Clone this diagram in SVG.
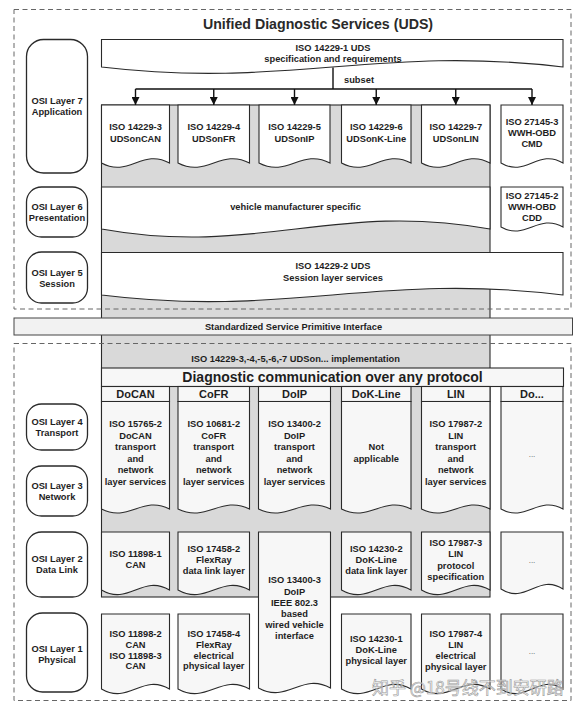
<svg xmlns="http://www.w3.org/2000/svg" width="581" height="708" viewBox="0 0 581 708">
<style>
.t{font-family:"Liberation Sans",Arial,sans-serif;font-size:9.3px;font-weight:bold;fill:#1e1e1e;text-anchor:middle}
.h{font-size:11px}
.big{font-size:14px}
.ttl{font-size:14.2px;fill:#2a2a2a}
.dots{font-weight:normal;font-size:8px;fill:#555}
.box{fill:#fff;stroke:#2a2a2a;stroke-width:1.1}
.lbox{fill:#f7f7f7;stroke:#2a2a2a;stroke-width:1.1}
.gray{fill:#d9d9d9;stroke:#2a2a2a;stroke-width:1.1}
.osi{fill:#fff;stroke:#2a2a2a;stroke-width:1.3}
.dash{fill:none;stroke:#666;stroke-width:1;stroke-dasharray:5 3.5}
.conn{stroke:#111;stroke-width:1.4;fill:none}
.wm{font-family:"Noto Sans CJK SC",sans-serif;font-size:17px;fill:#fff;fill-opacity:0.6;stroke:#999;stroke-width:0.6;text-anchor:start}
</style>
<defs>
<marker id="arr" markerUnits="userSpaceOnUse" markerWidth="8" markerHeight="8" refX="8" refY="4" orient="auto">
<path d="M0,0 L8,4 L0,8 z" fill="#111"/>
</marker>
</defs>
<rect width="581" height="708" fill="#fff"/>

<!-- gray backbone column -->
<rect id="gray-column" class="gray" x="101.5" y="105" width="388.5" height="492"/>

<!-- dashed frames -->
<rect class="dash" x="14" y="9.5" width="557" height="299.5"/>
<rect class="dash" x="14" y="343.5" width="557" height="357"/>

<text class="t ttl" x="318" y="28.5">Unified Diagnostic Services (UDS)</text>

<!-- OSI layer labels -->
<g id="osi7"><rect class="osi" x="26.5" y="39.5" width="61" height="133.5" rx="17"/><text class="t" x="57" y="104">OSI Layer 7</text><text class="t" x="57" y="115">Application</text></g>
<g id="osi6"><rect class="osi" x="26.5" y="187" width="61" height="50" rx="15"/><text class="t" x="57" y="209.5">OSI Layer 6</text><text class="t" x="57" y="220.7">Presentation</text></g>
<g id="osi5"><rect class="osi" x="26.5" y="252" width="61" height="51" rx="15"/><text class="t" x="57" y="275.5">OSI Layer 5</text><text class="t" x="57" y="286.7">Session</text></g>
<g id="osi4"><rect class="osi" x="26.5" y="404" width="61" height="46" rx="15"/><text class="t" x="57" y="425">OSI Layer 4</text><text class="t" x="57" y="436">Transport</text></g>
<g id="osi3"><rect class="osi" x="26.5" y="466" width="61" height="50" rx="15"/><text class="t" x="57" y="488.5">OSI Layer 3</text><text class="t" x="57" y="499.5">Network</text></g>
<g id="osi2"><rect class="osi" x="26.5" y="532" width="61" height="65" rx="15"/><text class="t" x="57" y="562.3">OSI Layer 2</text><text class="t" x="57" y="573.3">Data Link</text></g>
<g id="osi1"><rect class="osi" x="26.5" y="613" width="61" height="79" rx="16"/><text class="t" x="57" y="651.5">OSI Layer 1</text><text class="t" x="57" y="662.5">Physical</text></g>

<!-- top banner -->
<g id="iso14229-1"><path class="box" d="M101.5,39.5 H563 V67 C378.4,45 286.1,89 101.5,67 Z"/><text class="t" x="333" y="50.5">ISO 14229-1 UDS</text><text class="t" x="333" y="62">specification and requirements</text></g>

<!-- layer 7 boxes -->
<g id="udsoncan"><path class="box" d="M101.5,105 H169.5 V163 C142.3,148 128.7,178 101.5,163 Z"/><text class="t" x="135.5" y="130">ISO 14229-3</text><text class="t" x="135.5" y="141.5">UDSonCAN</text></g>
<g id="udsonfr"><path class="box" d="M178,105 H249.5 V163 C220.9,148 206.6,178 178,163 Z"/><text class="t" x="213.75" y="130">ISO 14229-4</text><text class="t" x="213.75" y="141.5">UDSonFR</text></g>
<g id="udsonip"><path class="box" d="M259,105 H330 V163 C301.6,148 287.4,178 259,163 Z"/><text class="t" x="294.5" y="130">ISO 14229-5</text><text class="t" x="294.5" y="141.5">UDSonIP</text></g>
<g id="udsonkline"><path class="box" d="M341.5,105 H411 V163 C383.2,148 369.3,178 341.5,163 Z"/><text class="t" x="376.25" y="130">ISO 14229-6</text><text class="t" x="376.25" y="141.5">UDSonK-Line</text></g>
<g id="udsonlin"><path class="box" d="M421.5,105 H490 V163 C462.6,148 448.9,178 421.5,163 Z"/><text class="t" x="455.75" y="130">ISO 14229-7</text><text class="t" x="455.75" y="141.5">UDSonLIN</text></g>
<g id="wwhobd-cmd"><path class="box" d="M501,105 H563 V163 C538.2,148 525.8,178 501,163 Z"/><text class="t" x="532" y="125">ISO 27145-3</text><text class="t" x="532" y="136.2">WWH-OBD</text><text class="t" x="532" y="147.4">CMD</text></g>

<!-- layer 6 -->
<g id="vehicle"><path class="box" d="M101.5,187 H490 V229 C334.6,201 256.9,257 101.5,229 Z"/><text class="t" x="295.5" y="210">vehicle manufacturer specific</text></g>
<g id="wwhobd-cdd"><path class="box" d="M501,187 H563 V227 C538.2,213 525.8,241 501,227 Z"/><text class="t" x="532" y="198.5">ISO 27145-2</text><text class="t" x="532" y="209.5">WWH-OBD</text><text class="t" x="532" y="220.5">CDD</text></g>

<!-- layer 5 -->
<g id="session"><path class="box" d="M101.5,252.5 H563 V295 C378.4,272 286.1,318 101.5,295 Z"/><text class="t" x="333" y="268.8">ISO 14229-2 UDS</text><text class="t" x="333" y="280.5">Session layer services</text></g>

<!-- interface bar -->
<g id="sspi"><rect x="14" y="318" width="558.5" height="17" fill="#f2f2f2" stroke="#444" stroke-width="1"/><text class="t" x="293.5" y="330">Standardized Service Primitive Interface</text></g>

<text id="impl" class="t" x="295.5" y="361.6">ISO 14229-3,-4,-5,-6,-7 UDSon... implementation</text>

<g id="diag"><rect class="lbox" x="101.5" y="368" width="462" height="18.5"/><text class="t big" x="332.5" y="382">Diagnostic communication over any protocol</text></g>

<!-- headers -->
<g id="h-docan"><rect class="lbox" x="101.5" y="386.5" width="68" height="15"/><text class="t h" x="135.5" y="398.3">DoCAN</text></g>
<g id="h-cofr"><rect class="lbox" x="178" y="386.5" width="71.5" height="15"/><text class="t h" x="213.75" y="398.3">CoFR</text></g>
<g id="h-doip"><rect class="lbox" x="258.5" y="386.5" width="72" height="15"/><text class="t h" x="294.5" y="398.3">DoIP</text></g>
<g id="h-dokline"><rect class="lbox" x="341.5" y="386.5" width="69.5" height="15"/><text class="t h" x="376.25" y="398.3">DoK-Line</text></g>
<g id="h-lin"><rect class="lbox" x="421.5" y="386.5" width="68.5" height="15"/><text class="t h" x="455.75" y="398.3">LIN</text></g>
<g id="h-do"><rect class="lbox" x="501" y="386.5" width="62" height="15"/><text class="t h" x="532" y="398.3">Do...</text></g>

<!-- layer 4/3 -->
<g id="tp-docan"><path class="lbox" d="M101.5,401.5 H169.5 V509 C142.3,495 128.7,523 101.5,509 Z"/><text class="t" x="135.5" y="427.3">ISO 15765-2</text><text class="t" x="135.5" y="438.8">DoCAN</text><text class="t" x="135.5" y="450.3">transport</text><text class="t" x="135.5" y="461.8">and</text><text class="t" x="135.5" y="473.3">network</text><text class="t" x="135.5" y="484.8">layer services</text></g>
<g id="tp-cofr"><path class="lbox" d="M178,401.5 H249.5 V509 C220.9,495 206.6,523 178,509 Z"/><text class="t" x="213.75" y="427.3">ISO 10681-2</text><text class="t" x="213.75" y="438.8">CoFR</text><text class="t" x="213.75" y="450.3">transport</text><text class="t" x="213.75" y="461.8">and</text><text class="t" x="213.75" y="473.3">network</text><text class="t" x="213.75" y="484.8">layer services</text></g>
<g id="tp-doip"><path class="lbox" d="M258.5,401.5 H330.5 V509 C301.7,495 287.3,523 258.5,509 Z"/><text class="t" x="294.5" y="427.3">ISO 13400-2</text><text class="t" x="294.5" y="438.8">DoIP</text><text class="t" x="294.5" y="450.3">transport</text><text class="t" x="294.5" y="461.8">and</text><text class="t" x="294.5" y="473.3">network</text><text class="t" x="294.5" y="484.8">layer services</text></g>
<g id="tp-dokline"><path class="lbox" d="M341.5,401.5 H411 V509 C383.2,495 369.3,523 341.5,509 Z"/><text class="t" x="376.25" y="450.3">Not</text><text class="t" x="376.25" y="461.8">applicable</text></g>
<g id="tp-lin"><path class="lbox" d="M421.5,401.5 H490 V509 C462.6,495 448.9,523 421.5,509 Z"/><text class="t" x="455.75" y="427.3">ISO 17987-2</text><text class="t" x="455.75" y="438.8">LIN</text><text class="t" x="455.75" y="450.3">transport</text><text class="t" x="455.75" y="461.8">and</text><text class="t" x="455.75" y="473.3">network</text><text class="t" x="455.75" y="484.8">layer services</text></g>
<g id="tp-do"><path class="lbox" d="M501,401.5 H563 V509 C538.2,495 525.8,523 501,509 Z"/><text class="t dots" x="532" y="457">...</text></g>

<!-- layer 2 -->
<g id="dl-can"><path class="lbox" d="M101.5,532 H169.5 V590 C142.3,574 128.7,606 101.5,590 Z"/><text class="t" x="135.5" y="557.3">ISO 11898-1</text><text class="t" x="135.5" y="568.3">CAN</text></g>
<g id="dl-flexray"><path class="lbox" d="M178,532 H249.5 V590 C220.9,574 206.6,606 178,590 Z"/><text class="t" x="213.75" y="551.6">ISO 17458-2</text><text class="t" x="213.75" y="562.6">FlexRay</text><text class="t" x="213.75" y="574">data link layer</text></g>
<g id="doip-phy"><path class="lbox" d="M258.5,532 H330.5 V688 C301.7,672 287.3,704 258.5,688 Z"/><text class="t" x="294.5" y="583.3">ISO 13400-3</text><text class="t" x="294.5" y="594.5">DoIP</text><text class="t" x="294.5" y="605.7">IEEE 802.3</text><text class="t" x="294.5" y="616.9">based</text><text class="t" x="294.5" y="628.1">wired vehicle</text><text class="t" x="294.5" y="639.3">interface</text></g>
<g id="dl-dokline"><path class="lbox" d="M341.5,532 H411 V590 C383.2,574 369.3,606 341.5,590 Z"/><text class="t" x="376.25" y="551.6">ISO 14230-2</text><text class="t" x="376.25" y="562.6">DoK-Line</text><text class="t" x="376.25" y="574">data link layer</text></g>
<g id="dl-lin"><path class="lbox" d="M421.5,532 H490 V590 C462.6,574 448.9,606 421.5,590 Z"/><text class="t" x="455.75" y="546">ISO 17987-3</text><text class="t" x="455.75" y="557.3">LIN</text><text class="t" x="455.75" y="568.6">protocol</text><text class="t" x="455.75" y="579.8">specification</text></g>
<g id="dl-do"><path class="lbox" d="M501,532 H563 V589 C538.2,573 525.8,605 501,589 Z"/><text class="t dots" x="532" y="563">...</text></g>

<!-- layer 1 -->
<g id="ph-can"><path class="lbox" d="M101.5,614 H169.5 V689 C142.3,673 128.7,705 101.5,689 Z"/><text class="t" x="135.5" y="637.3">ISO 11898-2</text><text class="t" x="135.5" y="648">CAN</text><text class="t" x="135.5" y="658.7">ISO 11898-3</text><text class="t" x="135.5" y="669.4">CAN</text></g>
<g id="ph-flexray"><path class="lbox" d="M178,614 H249.5 V689 C220.9,673 206.6,705 178,689 Z"/><text class="t" x="213.75" y="637.3">ISO 17458-4</text><text class="t" x="213.75" y="648">FlexRay</text><text class="t" x="213.75" y="658.7">electrical</text><text class="t" x="213.75" y="669.4">physical layer</text></g>
<g id="ph-dokline"><path class="lbox" d="M341.5,614 H411 V689 C383.2,673 369.3,705 341.5,689 Z"/><text class="t" x="376.25" y="641.6">ISO 14230-1</text><text class="t" x="376.25" y="652.6">DoK-Line</text><text class="t" x="376.25" y="664">physical layer</text></g>
<g id="ph-lin"><path class="lbox" d="M421.5,614 H490 V689 C462.6,673 448.9,705 421.5,689 Z"/><text class="t" x="455.75" y="636.6">ISO 17987-4</text><text class="t" x="455.75" y="647.5">LIN</text><text class="t" x="455.75" y="658.8">electrical</text><text class="t" x="455.75" y="670">physical layer</text></g>
<g id="ph-do"><path class="lbox" d="M501,614 H563 V689 C538.2,673 525.8,705 501,689 Z"/><text class="t dots" x="532" y="654">...</text></g>

<!-- connectors -->
<g id="connectors">
<path class="conn" d="M333,67.5 V89 M135.5,89 H532"/>
<path class="conn" d="M135.5,89 V105" marker-end="url(#arr)"/>
<path class="conn" d="M213.75,89 V105" marker-end="url(#arr)"/>
<path class="conn" d="M294.5,89 V105" marker-end="url(#arr)"/>
<path class="conn" d="M376.25,89 V105" marker-end="url(#arr)"/>
<path class="conn" d="M455.75,89 V105" marker-end="url(#arr)"/>
<path class="conn" d="M532,89 V105" marker-end="url(#arr)"/>
<text class="t" x="359" y="83">subset</text>
</g>

<text class="wm" x="372" y="694">知乎 @18号线不到安研路</text>
</svg>
